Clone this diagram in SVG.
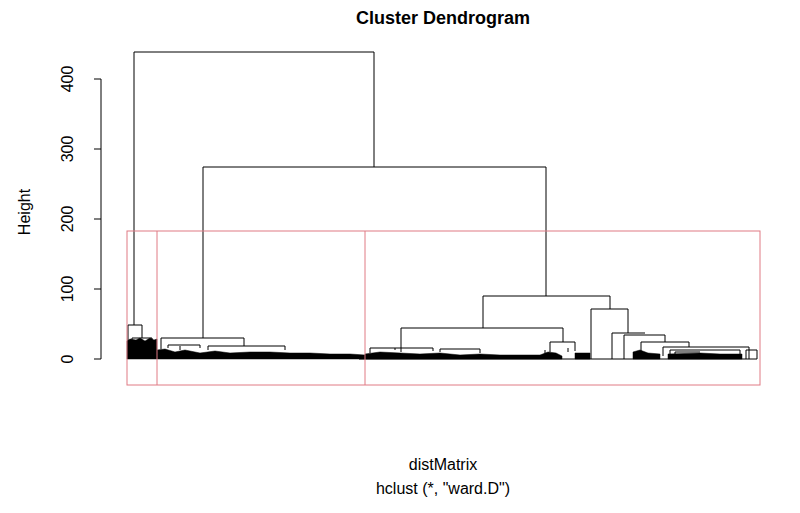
<svg xmlns="http://www.w3.org/2000/svg" width="800" height="513" viewBox="0 0 800 513">
<style>
text{font-family:"Liberation Sans",Arial,sans-serif;fill:#000}
.d{fill:none;stroke:#000;stroke-width:1}
.m{fill:#000;stroke:#000;stroke-width:0.5}
.r{fill:none;stroke:#e07a84;stroke-width:1}
</style>
<rect width="800" height="513" fill="#fff"/>
<text x="443" y="24" font-size="18" font-weight="bold" text-anchor="middle">Cluster Dendrogram</text>
<g id="axis" class="d">
<path d="M101 79V359M101 79H94M101 149H94M101 219H94M101 289H94M101 359H94"/>
</g>
<g font-size="16" text-anchor="middle">
<text transform="translate(73,359) rotate(-90)">0</text>
<text transform="translate(73,289) rotate(-90)">100</text>
<text transform="translate(73,219) rotate(-90)">200</text>
<text transform="translate(73,149) rotate(-90)">300</text>
<text transform="translate(73,79) rotate(-90)">400</text>
<text transform="translate(30,212) rotate(-90)">Height</text>
</g>
<text x="443" y="470" font-size="16" text-anchor="middle">distMatrix</text>
<text x="443" y="494" font-size="16" text-anchor="middle">hclust (*, "ward.D")</text>
<g id="masses">
<path class="m" d="M127 359V341L130 339L136 340L140 338L145 341L150 338L154 340L157 339V359Z"/>
<path class="m" d="M157 359V350L165 349L175 352L185 350L200 353L215 351L230 353L250 352L270 352L290 353L310 353L330 354L350 354L365 355V359Z"/>
<path class="m" d="M365 359V354L380 352L400 353L420 354L440 353L460 355L480 354L500 355L520 355L540 355L548 352L556 353L562 356V359Z"/>
<path class="m" d="M575 359V353L590 353V359Z"/>
<path class="m" d="M633 359V352L640 350L648 353L660 354V359Z"/>
<path class="m" d="M668 359V354L700 353L720 354L742 354V359Z"/>
</g>
<g id="connectors" class="d">
<path d="M359 359H757"/>
<path d="M128 341V325H142V338M132 340V338H152V340"/>
<path d="M134 325V52H374V167"/>
<path d="M203 338V167H546V296"/>
<path d="M161 349V338H244V346"/>
<path d="M168 348V345H200V348M208 350V346H285V350M180 350V346"/>
<path d="M483 296H610V309"/>
<path d="M483 296V328"/>
<path d="M401 352V328H563V342"/>
<path d="M370 353V348H433V351M395 350V348M440 352V349H480V353M550 352V342H575V351M568 352V348M545 355V350"/>
<path d="M591 359V309H628V333"/>
<path d="M612 359V333H645"/>
<path d="M624 359V335H665V342"/>
<path d="M641 355V342H689V347"/>
<path d="M663 356V347H749V359"/>
<path d="M746 359V350H757V359"/>
<path d="M670 356V350H740V356M675 356V352H700"/>
</g>
<g id="boxes" class="r">
<rect x="127" y="231" width="633" height="154"/>
<path d="M157 231V385M365 231V385"/>
</g>
</svg>
